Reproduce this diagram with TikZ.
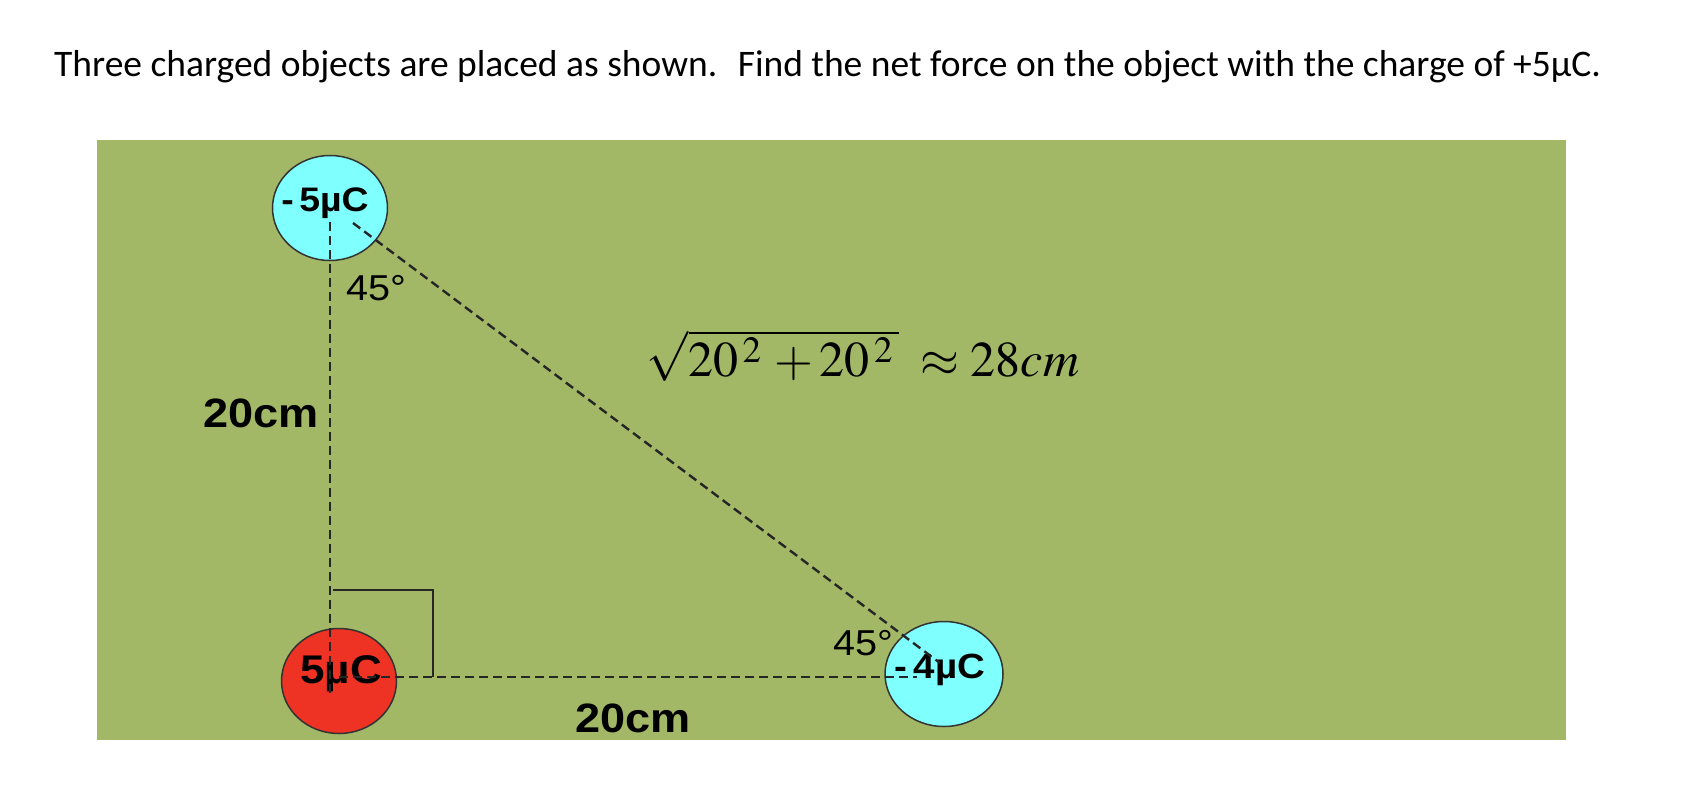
\documentclass[tikz,border=0pt]{standalone}
\usepackage{mathptmx}
\usepackage{fontspec}
\setmainfont{Liberation Serif}
\newfontfamily\titlefont{Carlito}
\newfontfamily\labelfont[FakeStretch=1.1]{Liberation Sans}
\usetikzlibrary{shapes.geometric}
\definecolor{boardgreen}{RGB}{163,184,102}
\definecolor{chargecyan}{RGB}{128,255,255}
\definecolor{chargered}{RGB}{238,50,36}
\tikzstyle{charge}=[ellipse,draw=black!80,line width=1.5pt,minimum width=115pt,minimum height=105pt,inner sep=0pt]
\tikzstyle{qtext}=[inner sep=0pt,font=\labelfont\bfseries]
\tikzstyle{dimtext}=[inner sep=0pt,font=\labelfont\bfseries\fontsize{41}{48}\selectfont]
\tikzstyle{angtext}=[inner sep=0pt,font=\labelfont\fontsize{36}{42}\selectfont]
\tikzstyle{guide}=[line width=2.4pt,dash pattern=on 9pt off 5pt,black!85]

\begin{document}
\begin{tikzpicture}[x=1pt,y=-1pt]
\useasboundingbox (0,0) rectangle (1688,800);
\fill[boardgreen] (97,140) rectangle (1566,740);
\node[anchor=base west,inner sep=0pt,font=\titlefont\fontsize{37.5}{44}\selectfont] (title) at (54,76)
 {Three charged objects are placed as shown.\hspace{0.25em} Find the net force on the object with the charge of +5µC.};
% charges
\node[charge,fill=chargecyan] (Q1) at (330,208) {};
\node[charge,fill=chargered] (Q2) at (339,681) {};
\node[charge,fill=chargecyan,minimum width=118pt] (Q3) at (944,674) {};
\node[qtext,font=\labelfont\bfseries\fontsize{34}{40}\selectfont] (Q1t) at (325,203) {-\,5µC};
\node[qtext,font=\labelfont\bfseries\fontsize{40}{48}\selectfont] (Q2t) at (341,674) {5µC};
\node[qtext,font=\labelfont\bfseries\fontsize{35}{42}\selectfont] (Q3t) at (940,670) {-\,4µC};
% guide lines
\coordinate (v1) at (330,222);
\coordinate (v2) at (330,695);
\coordinate (h1) at (339,677);
\coordinate (h2) at (917,677);
\coordinate (d1) at (353,223);
\coordinate (d2) at (940,663);
\draw[guide] (v1) -- (v2);
\draw[guide] (h1) -- (h2);
\draw[guide] (d1) -- (d2);
\draw[line width=2pt,black!85] (333,590) -| (433,677);
% labels
\node[angtext] (A1) at (376,288) {45°};
\node[angtext] (A2) at (863,643) {45°};
\node[dimtext] (L1) at (261,413) {20cm};
\node[dimtext] (L2) at (633,718) {20cm};
\node[inner sep=0pt,font=\fontsize{50}{60}\selectfont] (D) at (863,356)
 {$\sqrt{20^{\,2}\,+20^{\,2}\,}\;\approx 28cm$};
\end{tikzpicture}
\end{document}
